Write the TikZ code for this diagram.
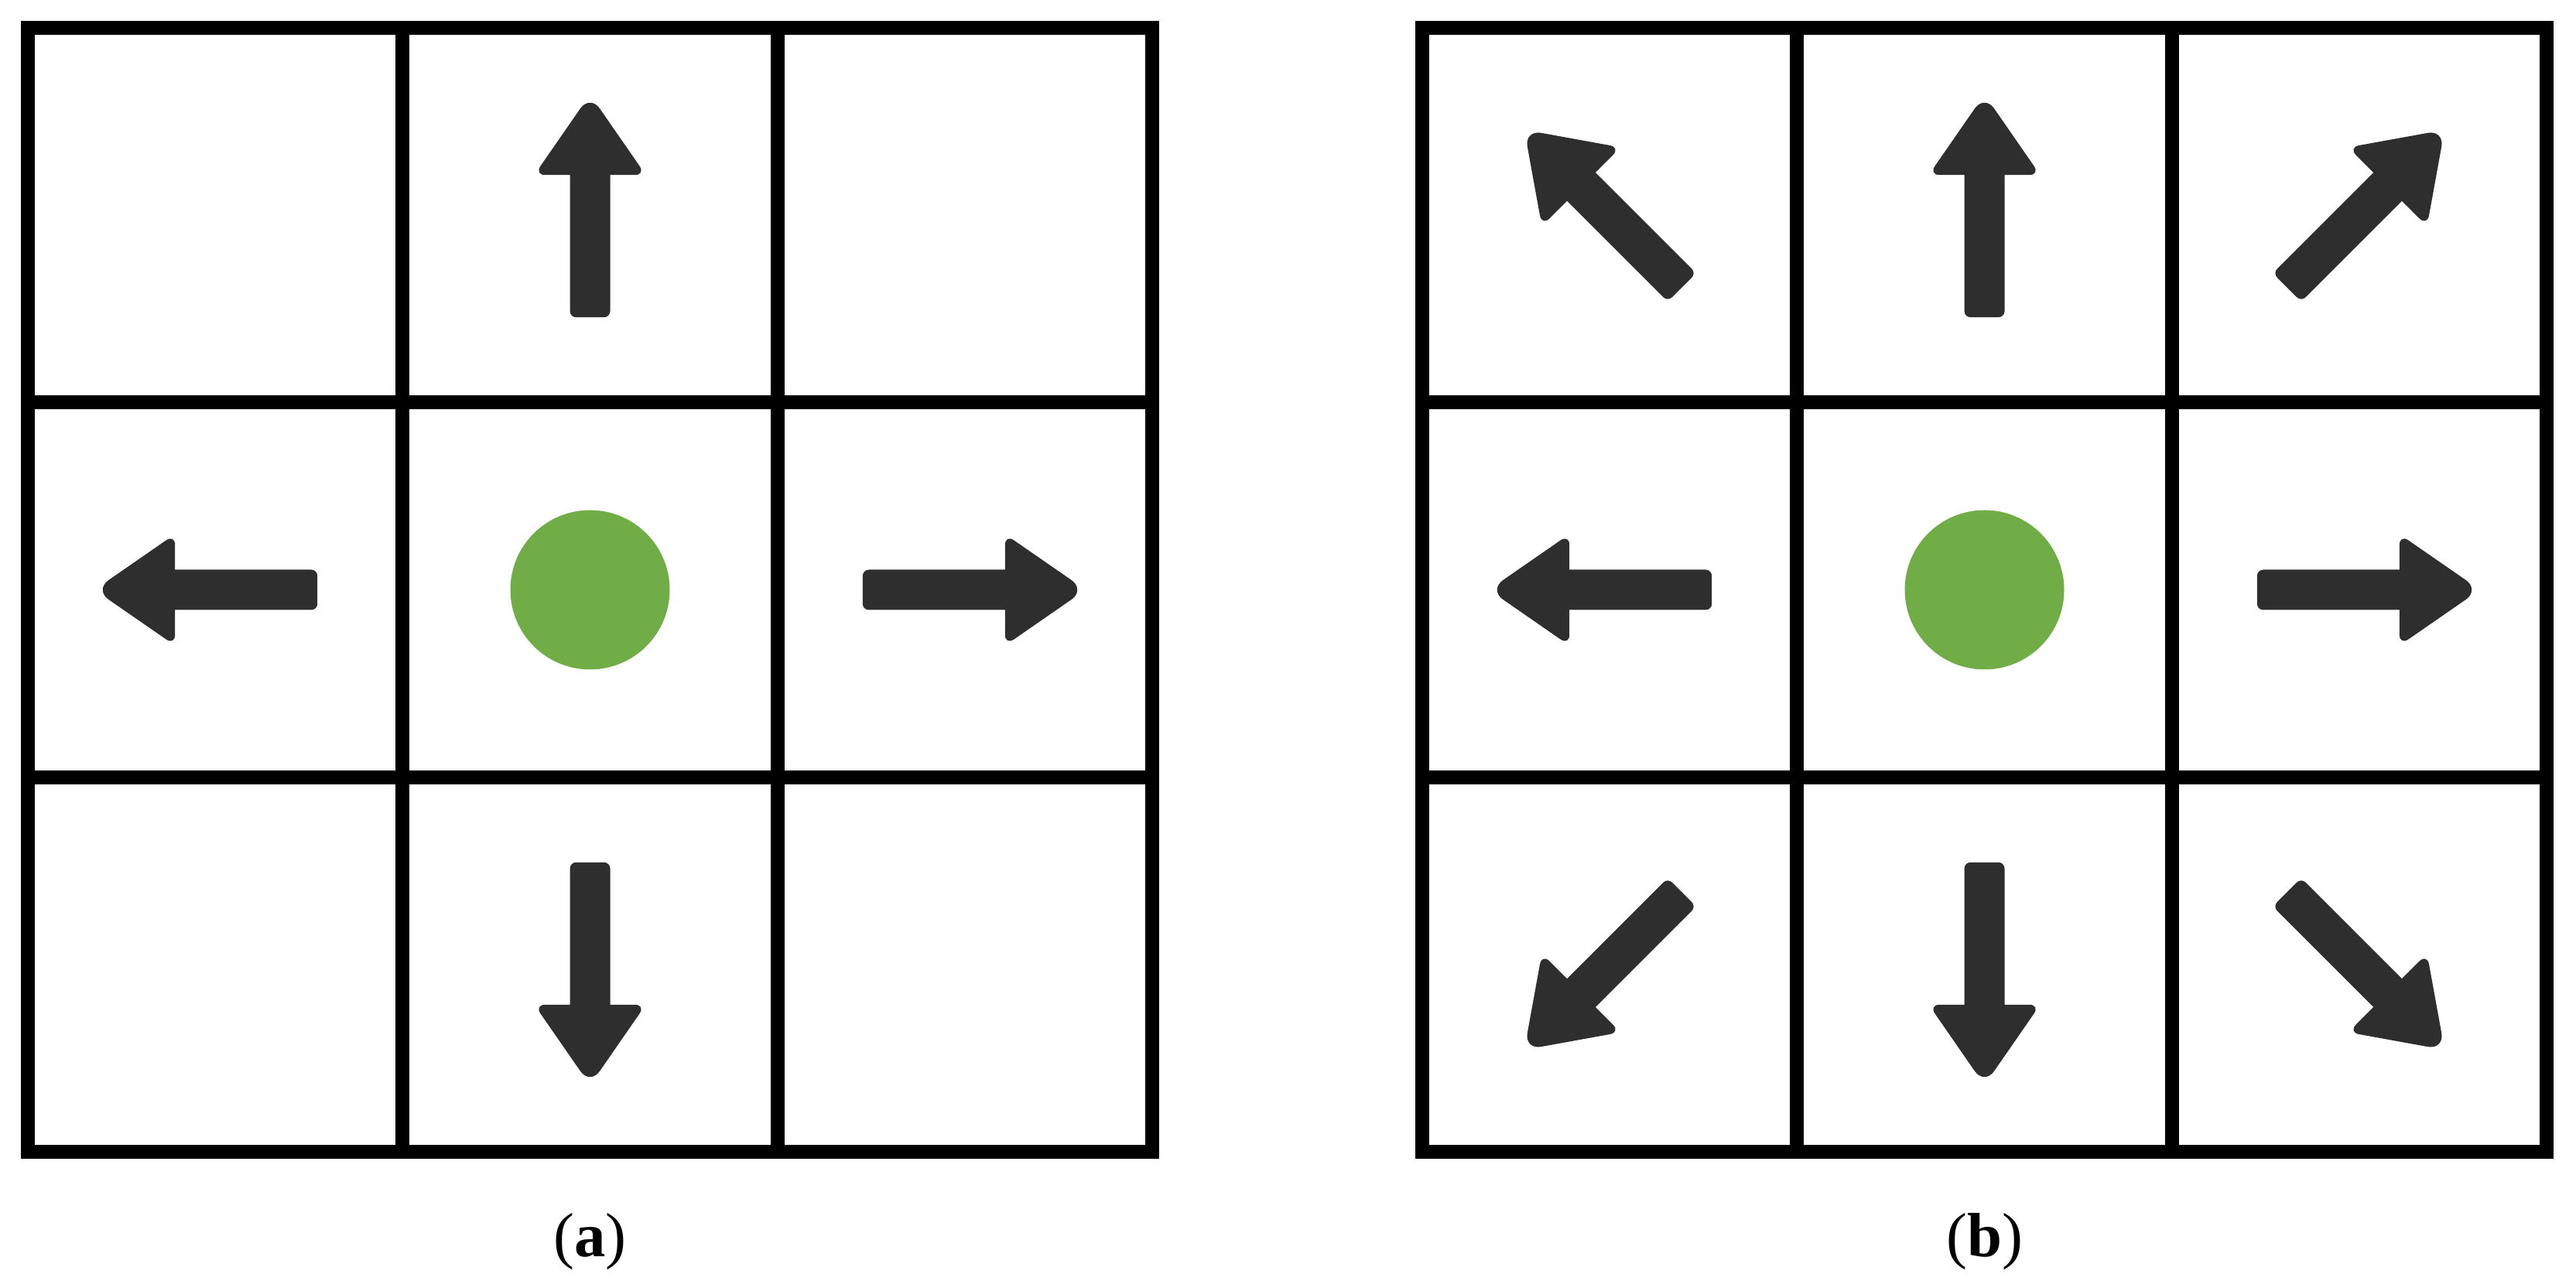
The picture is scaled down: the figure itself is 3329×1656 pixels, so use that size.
\documentclass[tikz,border=0pt]{standalone}
\usepackage{fontspec}
\setmainfont{Liberation Serif}
\definecolor{agentgreen}{RGB}{112,173,71}
\definecolor{movegray}{RGB}{46,46,46}

\tikzset{
  movearrow/.pic={
    \fill[movegray]
      (-132,0) [rounded corners=0.8mm] -- (-132,-26) [sharp corners] -- (52,-26)
      [rounded corners=1.4mm] -- (52,-72) [rounded corners=2.2mm] -- (156,0)
      [rounded corners=1.4mm] -- (52,72) [sharp corners] -- (52,26)
      [rounded corners=0.8mm] -- (-132,26) -- cycle;
  }
}

\begin{document}
\begin{tikzpicture}[x=0.1mm,y=0.1mm]
\tikzstyle{gridline}=[draw=black,line width=1.8mm]
\tikzstyle{agent}=[circle,fill=agentgreen,minimum size=20.6mm,inner sep=0pt]
\tikzstyle{caption}=[font=\fontsize{23}{27}\selectfont]

\useasboundingbox (0,0) rectangle (3329,1656);

% (a) four neighbours
\begin{scope}[shift={(36,167)}]
  \draw[gridline] (0,0) rectangle (1453,1453);
  \foreach \k in {484.3,968.7} {
    \draw[gridline] (\k,0) -- (\k,1453);
    \draw[gridline] (0,\k) -- (1453,\k);
  }
  \node[agent] (agentA) at (726.5,726.5) {};
  \foreach \ang in {0,90,180,270}
    \pic[rotate=\ang] at ({726.5+484.3*round(cos(\ang))},{726.5+484.3*round(sin(\ang))}) {movearrow};
  \node[caption] (capA) at (726.5,-116) {(\textbf{a})};
\end{scope}

% (b) eight neighbours
\begin{scope}[shift={(1838,167)}]
  \draw[gridline] (0,0) rectangle (1453,1453);
  \foreach \k in {484.3,968.7} {
    \draw[gridline] (\k,0) -- (\k,1453);
    \draw[gridline] (0,\k) -- (1453,\k);
  }
  \node[agent] (agentB) at (726.5,726.5) {};
  \foreach \ang in {0,45,...,315}
    \pic[rotate=\ang] at ({726.5+484.3*round(cos(\ang))},{726.5+484.3*round(sin(\ang))}) {movearrow};
  \node[caption] (capB) at (726.5,-116) {(\textbf{b})};
\end{scope}
\end{tikzpicture}
\end{document}
